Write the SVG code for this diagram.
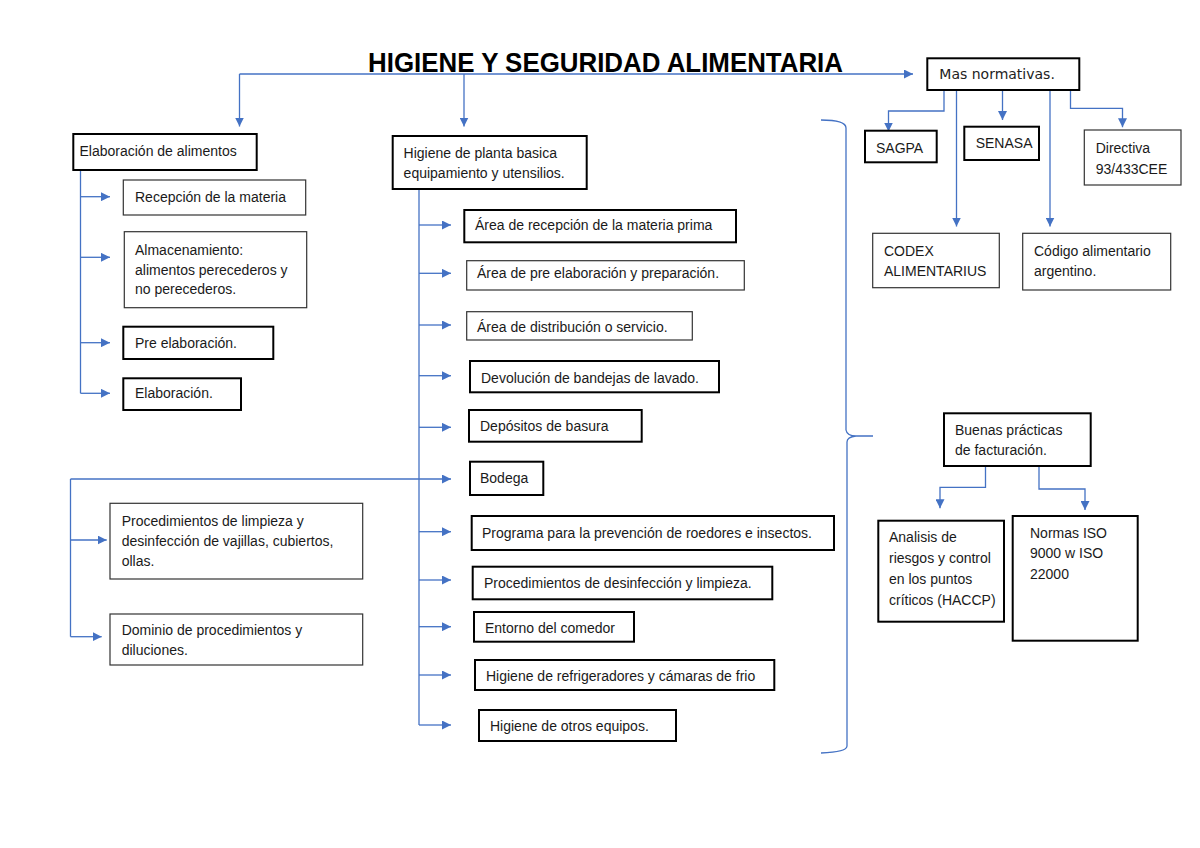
<svg xmlns="http://www.w3.org/2000/svg" width="1200" height="848" viewBox="0 0 1200 848">
<defs>
<marker id="ah" viewBox="0 0 10 10" refX="10" refY="5" markerWidth="9" markerHeight="9" markerUnits="userSpaceOnUse" orient="auto">
<path d="M0,0 L10,5 L0,10 z" fill="#4472C4"/>
</marker>
</defs>
<style>
.bg{fill:#fff}
.thick{fill:#fff;stroke:#000;stroke-width:2}
.thin{fill:#fff;stroke:#333;stroke-width:1.2}
.t{font-family:"Liberation Sans",Arial,sans-serif;font-size:14px;fill:#1a1a1a}
.title{font-family:"Liberation Sans",Arial,sans-serif;font-size:28px;font-weight:bold;fill:#000}
.mas{font-family:"DejaVu Sans",sans-serif;font-size:14px;fill:#222}
.c{fill:none;stroke:#4472C4;stroke-width:1.3}
.ca{fill:none;stroke:#4472C4;stroke-width:1.3;marker-end:url(#ah)}
</style>
<rect class="bg" x="0" y="0" width="1200" height="848"/>

<text class="title" x="368" y="72" textLength="475" lengthAdjust="spacingAndGlyphs">HIGIENE Y SEGURIDAD ALIMENTARIA</text>

<g id="connectors">
<path class="ca" d="M239.5,74 H913"/>
<path class="ca" d="M239.5,74 V126.5"/>
<path class="ca" d="M464,74 V126.5"/>
<path class="c" d="M80.5,170 V393.3"/>
<path class="ca" d="M80.5,196.7 H110"/>
<path class="ca" d="M80.5,257.3 H110"/>
<path class="ca" d="M80.5,342.7 H110"/>
<path class="ca" d="M80.5,393.3 H110"/>
<path class="c" d="M419,189 V725"/>
<path class="ca" d="M419,225 H451"/>
<path class="ca" d="M419,273.3 H451"/>
<path class="ca" d="M419,325 H451"/>
<path class="ca" d="M419,375.7 H451"/>
<path class="ca" d="M419,427.3 H451"/>
<path class="ca" d="M70.5,479 H451"/>
<path class="ca" d="M419,531.7 H451"/>
<path class="ca" d="M419,580 H451"/>
<path class="ca" d="M419,626.7 H451"/>
<path class="ca" d="M419,675 H451"/>
<path class="ca" d="M419,725 H451"/>
<path class="c" d="M70.5,479 V636.7"/>
<path class="ca" d="M70.5,540 H106.7"/>
<path class="ca" d="M70.5,636.7 H101.7"/>
<path class="ca" d="M944,90 V111 H888.5 V131.5"/>
<path class="ca" d="M956.5,90 V226.5"/>
<path class="ca" d="M1002.5,90 V120"/>
<path class="ca" d="M1050,90 V226.5"/>
<path class="ca" d="M1070.5,90 V108.3 H1122.5 V127.3"/>
<path class="ca" d="M985.5,466 V487.3 H940 V508.3"/>
<path class="ca" d="M1039,466 V489 H1085 V510"/>
<path class="c" d="M821,120 Q846,120 846,128 L846,430 Q847,436 856,436 L873,436 M856,436 Q847,437 847,442 L847,746 Q847,752 821,753"/>
</g>

<g id="n-elaboracion"><rect class="thick" x="73.3" y="134" width="183.4" height="36"/><text class="t" x="79.5" y="155.7">Elaboración de alimentos</text></g>
<g id="n-recepcion"><rect class="thin" x="123.3" y="180" width="182.4" height="35"/><text class="t" x="135" y="201.7">Recepción de la materia</text></g>
<g id="n-almacenamiento"><rect class="thin" x="124.3" y="231.7" width="182.4" height="76"/><text class="t" x="135" y="255">Almacenamiento:</text><text class="t" x="135" y="274.5">alimentos perecederos y</text><text class="t" x="135" y="293.5">no perecederos.</text></g>
<g id="n-preelab"><rect class="thick" x="123.3" y="326.7" width="150" height="32.3"/><text class="t" x="135" y="347.7">Pre elaboración.</text></g>
<g id="n-elab"><rect class="thick" x="123.3" y="378.3" width="117.7" height="31.7"/><text class="t" x="135" y="398">Elaboración.</text></g>

<g id="n-higiene"><rect class="thick" x="392.7" y="136" width="194" height="53"/><text class="t" x="403.6" y="158.3">Higiene de planta basica</text><text class="t" x="403.6" y="177.7">equipamiento y utensilios.</text></g>
<g id="n-area-recepcion"><rect class="thick" x="464.3" y="210" width="271.7" height="32.3"/><text class="t" x="475" y="230">Área de recepción de la materia prima</text></g>
<g id="n-area-pre"><rect class="thin" x="466.7" y="260.7" width="277.6" height="29.3"/><text class="t" x="477" y="278">Área de pre elaboración y preparación.</text></g>
<g id="n-area-dist"><rect class="thin" x="466.7" y="311.7" width="225.6" height="28.3"/><text class="t" x="477" y="332">Área de distribución o servicio.</text></g>
<g id="n-devolucion"><rect class="thick" x="470" y="361" width="249" height="31.3"/><text class="t" x="481" y="382.5">Devolución de bandejas de lavado.</text></g>
<g id="n-depositos"><rect class="thick" x="469" y="410" width="172.7" height="31.7"/><text class="t" x="480" y="431">Depósitos de basura</text></g>
<g id="n-bodega"><rect class="thick" x="470" y="461.7" width="73.3" height="33.3"/><text class="t" x="480" y="483">Bodega</text></g>
<g id="n-programa"><rect class="thick" x="471.7" y="516" width="362.3" height="34"/><text class="t" x="482" y="537.5">Programa para la prevención de roedores e insectos.</text></g>
<g id="n-proc-desinf"><rect class="thick" x="472.7" y="566.7" width="299.6" height="32.6"/><text class="t" x="484" y="587.5">Procedimientos de desinfección y limpieza.</text></g>
<g id="n-entorno"><rect class="thick" x="474" y="612" width="160" height="29.7"/><text class="t" x="485" y="632.5">Entorno del comedor</text></g>
<g id="n-refrigeradores"><rect class="thick" x="475" y="660" width="299.3" height="30"/><text class="t" x="486" y="680.5">Higiene de refrigeradores y cámaras de frio</text></g>
<g id="n-otros"><rect class="thick" x="479" y="710" width="197" height="31"/><text class="t" x="490" y="731">Higiene de otros equipos.</text></g>

<g id="n-proc-limpieza"><rect class="thin" x="110" y="503.3" width="252.7" height="75.7"/><text class="t" x="121.7" y="525.5">Procedimientos de limpieza y</text><text class="t" x="121.7" y="545.5">desinfección de vajillas, cubiertos,</text><text class="t" x="121.7" y="565.5">ollas.</text></g>
<g id="n-dominio"><rect class="thin" x="110" y="614" width="252.7" height="51"/><text class="t" x="121.7" y="635">Dominio de procedimientos y</text><text class="t" x="121.7" y="655">diluciones.</text></g>

<g id="n-mas"><rect class="thick" x="927.3" y="58.3" width="152" height="31.7"/><text class="mas" x="939.3" y="79">Mas normativas.</text></g>
<g id="n-sagpa"><rect class="thick" x="865" y="130.7" width="71.7" height="31.6"/><text class="t" x="876" y="152.5">SAGPA</text></g>
<g id="n-senasa"><rect class="thick" x="964.3" y="126.7" width="74.7" height="33.3"/><text class="t" x="975.7" y="147.5">SENASA</text></g>
<g id="n-directiva"><rect class="thin" x="1084.3" y="130" width="96.7" height="55"/><text class="t" x="1095.7" y="152.5">Directiva</text><text class="t" x="1095.7" y="173.5">93/433CEE</text></g>
<g id="n-codex"><rect class="thin" x="872.7" y="233.3" width="126.6" height="54.4"/><text class="t" x="884" y="255.5">CODEX</text><text class="t" x="884" y="275.5">ALIMENTARIUS</text></g>
<g id="n-codigo"><rect class="thin" x="1022.7" y="233.3" width="148" height="56.7"/><text class="t" x="1034" y="255.5">Código alimentario</text><text class="t" x="1034" y="275.5">argentino.</text></g>

<g id="n-buenas"><rect class="thick" x="944" y="413.3" width="146.7" height="52.7"/><text class="t" x="955" y="435">Buenas prácticas</text><text class="t" x="955" y="455">de facturación.</text></g>
<g id="n-analisis"><rect class="thick" x="878.3" y="520.7" width="125.7" height="101"/><text class="t" x="889" y="541.5">Analisis de</text><text class="t" x="889" y="562.5">riesgos y control</text><text class="t" x="889" y="584">en los puntos</text><text class="t" x="889" y="604.5">críticos (HACCP)</text></g>
<g id="n-normas"><rect class="thick" x="1012.7" y="516" width="125" height="124.7"/><text class="t" x="1030" y="537.5">Normas ISO</text><text class="t" x="1030" y="557.5">9000 w ISO</text><text class="t" x="1030" y="578.5">22000</text></g>
</svg>
